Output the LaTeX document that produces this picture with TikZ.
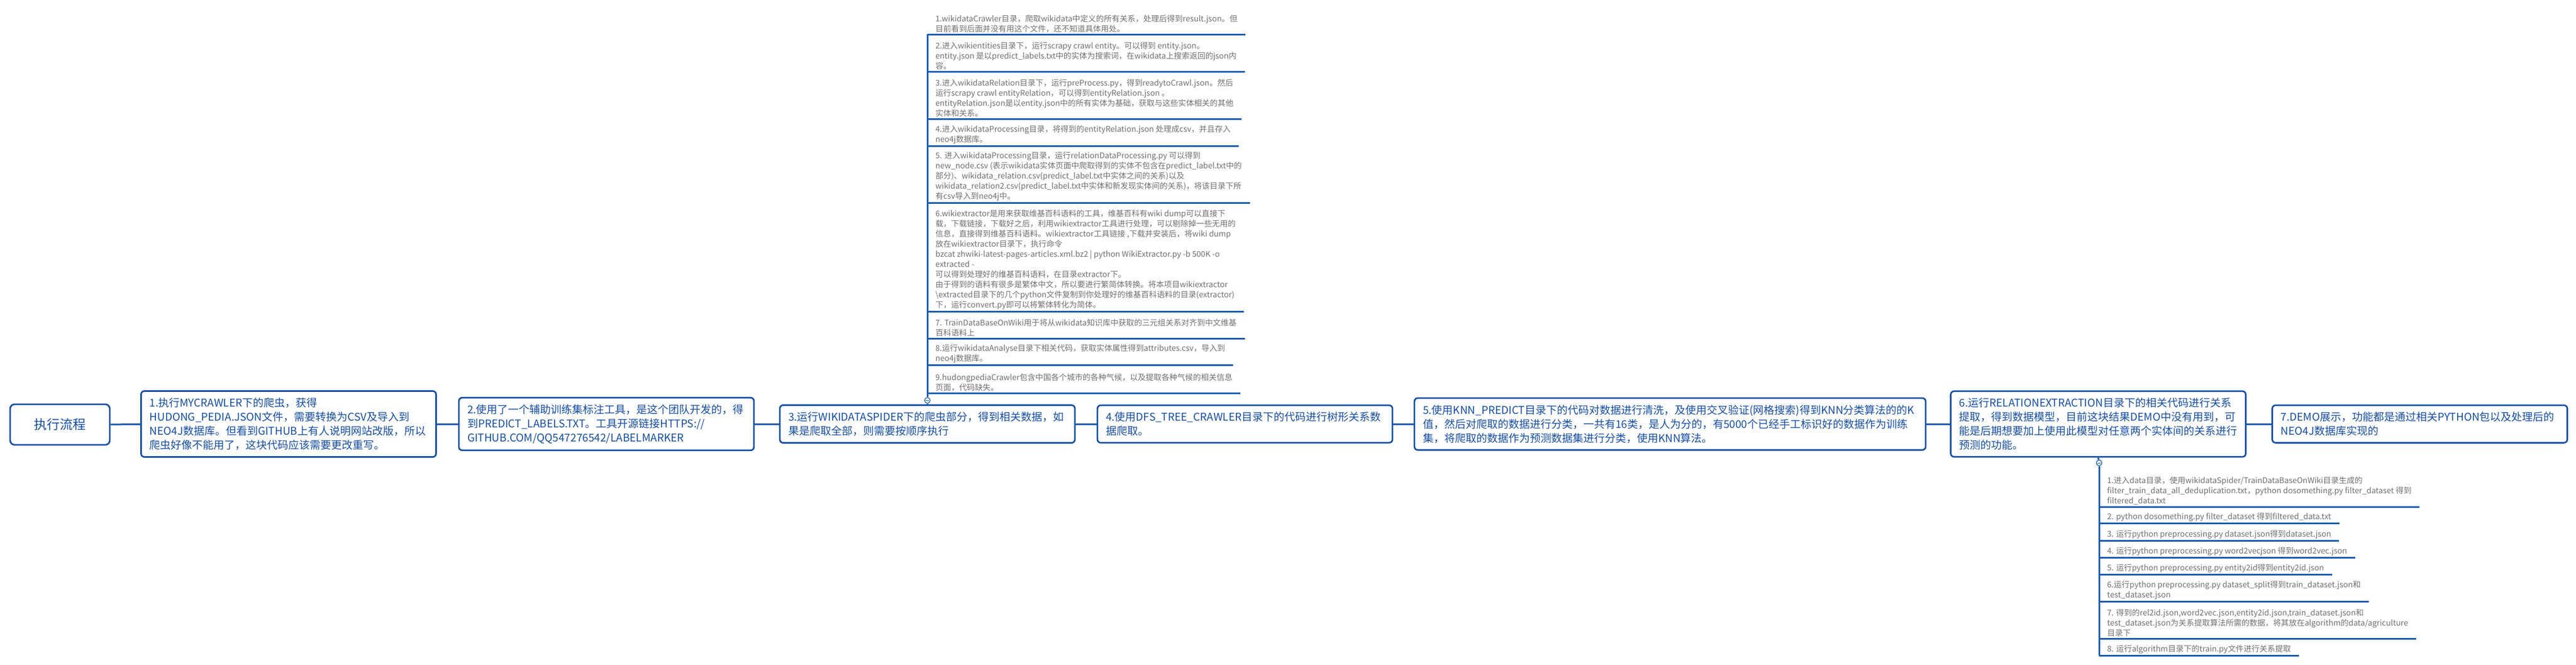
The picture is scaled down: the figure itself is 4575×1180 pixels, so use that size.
\documentclass[tikz,border=0pt]{standalone}
\usepackage{fontspec}
\newfontfamily\cjk{Noto Sans CJK SC}
\definecolor{mapblue}{RGB}{22,78,165}
\definecolor{mapline}{RGB}{24,92,178}
\definecolor{leafgray}{RGB}{112,112,112}
\tikzset{
  topic/.style={draw=mapblue, line width=1.4pt, rounded corners=3pt, fill=white,
    text=mapblue, font=\cjk\fontsize{9.5}{12.5}\selectfont, align=left,
    text width=247pt, inner xsep=7.5pt, inner ysep=6pt},
  roottopic/.style={draw=mapblue, line width=1.4pt, rounded corners=4pt, fill=white,
    text=mapblue, font=\cjk\fontsize{11.5}{14}\selectfont,
    minimum width=88.5pt, minimum height=36pt},
  leaf/.style={text=leafgray, font=\cjk\fontsize{7}{9}\selectfont, align=left,
    anchor=south west, inner xsep=7pt, inner ysep=1.5pt},
  branch/.style={draw=mapline, line width=1.5pt},
  fold/.style={circle, draw=mapline, line width=0.6pt, fill=white, inner sep=0pt,
    minimum size=5pt, path picture={\draw[mapline, line width=0.5pt]
      ([xshift=-1.4pt]path picture bounding box.center) --
      ([xshift=1.4pt]path picture bounding box.center);}}
}
\begin{document}
\begin{tikzpicture}[x=0.5pt, y=-0.5pt]
  \useasboundingbox[fill=white] (0,0) rectangle (4575,1180);
  % main row
  \node[roottopic] (root) at (106.5,754) {执行流程};
  \node[topic] (s1) at (512.5,753) {1.执行MYCRAWLER下的爬虫，获得\\HUDONG\_PEDIA.JSON文件，需要转换为CSV及导入到\\NEO4J数据库。但看到GITHUB上有人说明网站改版，所以\\爬虫好像不能用了，这块代码应该需要更改重写。};
  \node[topic] (s2) at (1077,753) {2.使用了一个辅助训练集标注工具，是这个团队开发的，得\\到PREDICT\_LABELS.TXT。工具开源链接HTTPS://\\GITHUB.COM/QQ547276542/LABELMARKER};
  \node[topic] (s3) at (1647,753) {3.运行WIKIDATASPIDER下的爬虫部分，得到相关数据，如\\果是爬取全部，则需要按顺序执行};
  \node[topic] (s4) at (2211,753) {4.使用DFS\_TREE\_CRAWLER目录下的代码进行树形关系数\\据爬取。};
  \node[topic, text width=439pt] (s5) at (2966,753) {5.使用KNN\_PREDICT目录下的代码对数据进行清洗，及使用交叉验证(网格搜索)得到KNN分类算法的的K\\值，然后对爬取的数据进行分类，一共有16类，是人为分的，有5000个已经手工标识好的数据作为训练\\集，将爬取的数据作为预测数据集进行分类，使用KNN算法。};
  \node[topic] (s6) at (3726.5,753) {6.运行RELATIONEXTRACTION目录下的相关代码进行关系\\提取，得到数据模型，目前这块结果DEMO中没有用到，可\\能是后期想要加上使用此模型对任意两个实体间的关系进行\\预测的功能。};
  \node[topic] (s7) at (4297.5,753) {7.DEMO展示，功能都是通过相关PYTHON包以及处理后的\\NEO4J数据库实现的};
  \draw[branch] (root) -- (s1);
  \draw[branch] (s1) -- (s2);
  \draw[branch] (s2) -- (s3);
  \draw[branch] (s3) -- (s4);
  \draw[branch] (s4) -- (s5);
  \draw[branch] (s5) -- (s6);
  \draw[branch] (s6) -- (s7);

  % wikidataSpider steps above step 3
  \coordinate (ut) at (1647,61);
  \node[fold] (uf) at (1647,711) {};
  \draw[branch] (s3.north) -- (uf);
  \draw[branch] (uf) -- (ut);
  \node[leaf] (u1) at (1647,61) {1.wikidataCrawler目录，爬取wikidata中定义的所有关系，处理后得到result.json。但\\目前看到后面并没有用这个文件，还不知道具体用处。};
  \node[leaf] (u2) at (1647,127) {2.进入wikientities目录下，运行scrapy crawl entity。可以得到 entity.json。\\entity.json 是以predict\_labels.txt中的实体为搜索词，在wikidata上搜索返回的json内\\容。};
  \node[leaf] (u3) at (1647,211) {3.进入wikidataRelation目录下，运行preProcess.py，得到readytoCrawl.json。然后\\运行scrapy crawl entityRelation，可以得到entityRelation.json 。\\entityRelation.json是以entity.json中的所有实体为基础，获取与这些实体相关的其他\\实体和关系。};
  \node[leaf] (u4) at (1647,259) {4.进入wikidataProcessing目录，将得到的entityRelation.json 处理成csv，并且存入\\neo4j数据库。};
  \node[leaf] (u5) at (1647,360) {5. 进入wikidataProcessing目录，运行relationDataProcessing.py 可以得到\\new\_node.csv (表示wikidata实体页面中爬取得到的实体不包含在predict\_label.txt中的\\部分)、wikidata\_relation.csv(predict\_label.txt中实体之间的关系)以及\\wikidata\_relation2.csv(predict\_label.txt中实体和新发现实体间的关系)，将该目录下所\\有csv导入到neo4j中。};
  \node[leaf] (u6) at (1647,553) {6.wikiextractor是用来获取维基百科语料的工具，维基百科有wiki dump可以直接下\\载，下载链接，下载好之后，利用wikiextractor工具进行处理，可以剔除掉一些无用的\\信息，直接得到维基百科语料。wikiextractor工具链接 ,下载并安装后，将wiki dump\\放在wikiextractor目录下，执行命令\\bzcat zhwiki-latest-pages-articles.xml.bz2 | python WikiExtractor.py -b 500K -o\\extracted -\\可以得到处理好的维基百科语料，在目录extractor下。\\由于得到的语料有很多是繁体中文，所以要进行繁简体转换。将本项目wikiextractor\\\textbackslash extracted目录下的几个python文件复制到你处理好的维基百科语料的目录(extractor)\\下，运行convert.py即可以将繁体转化为简体。};
  \node[leaf] (u7) at (1647,601) {7. TrainDataBaseOnWiki用于将从wikidata知识库中获取的三元组关系对齐到中文维基\\百科语料上};
  \node[leaf] (u8) at (1647,648) {8.运行wikidataAnalyse目录下相关代码，获取实体属性得到attributes.csv，导入到\\neo4j数据库。};
  \node[leaf] (u9) at (1647,698) {9.hudongpediaCrawler包含中国各个城市的各种气候，以及提取各种气候的相关信息\\页面，代码缺失。};
  \foreach \i in {1,...,9}
    \draw[branch] (u\i.south west) -- (u\i.south east);

  % relation extraction steps below step 6
  \coordinate (lt) at (3728,1164);
  \node[fold] (lf) at (3728,822) {};
  \draw[branch] (s6.south) -- (lf);
  \draw[branch] (lf) -- (lt);
  \node[leaf] (l1) at (3728,900) {1.进入data目录，使用wikidataSpider/TrainDataBaseOnWiki目录生成的\\filter\_train\_data\_all\_deduplication.txt，python dosomething.py filter\_dataset 得到\\filtered\_data.txt};
  \node[leaf] (l2) at (3728,929) {2. python dosomething.py filter\_dataset 得到filtered\_data.txt};
  \node[leaf] (l3) at (3728,960) {3. 运行python preprocessing.py dataset.json得到dataset.json};
  \node[leaf] (l4) at (3728,990) {4. 运行python preprocessing.py word2vecjson 得到word2vec.json};
  \node[leaf] (l5) at (3728,1020) {5. 运行python preprocessing.py entity2id得到entity2id.json};
  \node[leaf] (l6) at (3728,1068) {6.运行python preprocessing.py dataset\_split得到train\_dataset.json和\\test\_dataset.json};
  \node[leaf] (l7) at (3728,1134) {7. 得到的rel2id.json,word2vec.json,entity2id.json,train\_dataset.json和\\test\_dataset.json为关系提取算法所需的数据，将其放在algorithm的data/agriculture\\目录下};
  \node[leaf] (l8) at (3728,1164) {8. 运行algorithm目录下的train.py文件进行关系提取};
  \foreach \i in {1,...,8}
    \draw[branch] (l\i.south west) -- (l\i.south east);
\end{tikzpicture}
\end{document}
